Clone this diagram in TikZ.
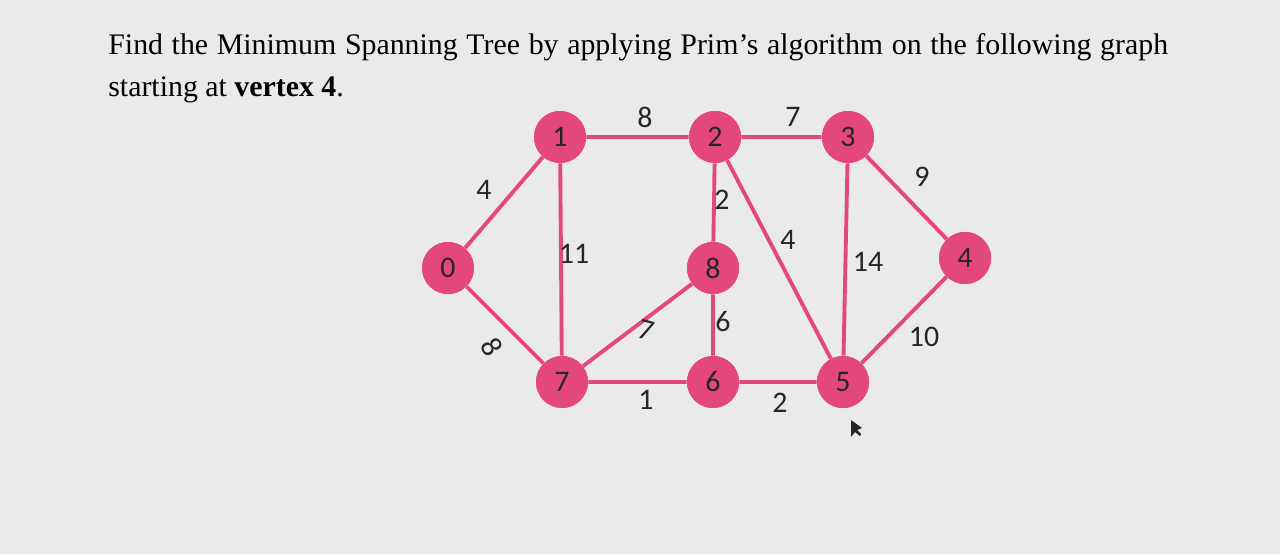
\documentclass[tikz,border=0pt]{standalone}
\usepackage{fontspec}
\setmainfont{Liberation Serif}
\newfontfamily\lblfont{Carlito}
\definecolor{pk}{RGB}{228,72,122}
\definecolor{bg}{RGB}{234,234,232}
\begin{document}
\begin{tikzpicture}[x=0.02cm,y=-0.02cm,
  vtx/.style={circle,fill=pk,minimum size=1.04cm,inner sep=0pt,font=\lblfont\fontsize{17}{17}\selectfont,text=black!85},
  edg/.style={draw=pk,line width=2.2pt},
  wl/.style={font=\lblfont\fontsize{17}{17}\selectfont,text=black!85,inner sep=1pt}]
\fill[bg] (0,0) rectangle (1280,554);
\useasboundingbox (0,0) rectangle (1280,554);
\node[anchor=north west,text width=21.2cm,align=justify,inner sep=0pt,font=\fontsize{17}{24}\selectfont] (title) at (108,33)
 {Find the Minimum Spanning Tree by applying Prim’s algorithm on the following graph starting at \textbf{vertex 4}.};
\node[vtx] (v0) at (448,268) {0};
\node[vtx] (v1) at (560,137) {1};
\node[vtx] (v2) at (715,137) {2};
\node[vtx] (v3) at (848,137) {3};
\node[vtx] (v4) at (965,258) {4};
\node[vtx] (v8) at (713,268) {8};
\node[vtx] (v7) at (562,382) {7};
\node[vtx] (v6) at (713,382) {6};
\node[vtx] (v5) at (843,382) {5};
\path[edg] (v0)--(v1) (v0)--(v7) (v1)--(v2) (v1)--(v7) (v2)--(v3) (v2)--(v8) (v2)--(v5)
 (v3)--(v5) (v3)--(v4) (v4)--(v5) (v8)--(v7) (v8)--(v6) (v7)--(v6) (v6)--(v5);
\node[wl] (w01) at (484,190) {4};
\node[wl] (w12) at (645,117) {8};
\node[wl] (w23) at (793,117) {7};
\node[wl] (w34) at (922,177) {9};
\node[wl] (w28) at (722,200) {2};
\node[wl] (w17) at (574,254) {11};
\node[wl] (w25) at (788,240) {4};
\node[wl] (w35) at (868,262) {14};
\node[wl,rotate=-60] (w07) at (492,347) {8};
\node[wl,rotate=-15] (w78) at (646,330) {7};
\node[wl] (w86) at (723,322) {6};
\node[wl] (w45) at (924,337) {10};
\node[wl] (w76) at (646,400) {1};
\node[wl] (w65) at (780,403) {2};
\node[vtx] at (v0) {0};\node[vtx] at (v1) {1};\node[vtx] at (v2) {2};\node[vtx] at (v3) {3};
\node[vtx] at (v4) {4};\node[vtx] at (v8) {8};\node[vtx] at (v7) {7};\node[vtx] at (v6) {6};\node[vtx] at (v5) {5};
\fill[black!85] (851,420) -- (851,437) -- (855,432) -- (860,436) -- (861,434) -- (857,430) -- (862,428) -- cycle;
\end{tikzpicture}
\end{document}
